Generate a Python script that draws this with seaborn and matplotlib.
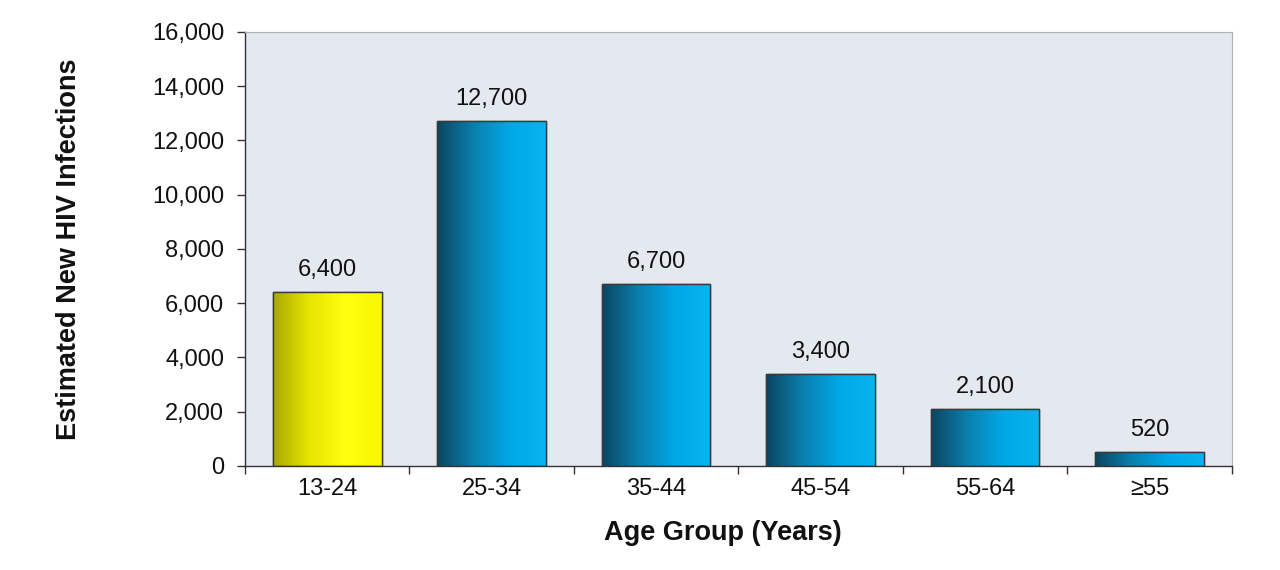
import matplotlib
matplotlib.use("Agg")
import matplotlib.pyplot as plt
import seaborn as sns
import numpy as np
import pandas as pd
from matplotlib.colors import LinearSegmentedColormap
from matplotlib.ticker import FuncFormatter, FixedLocator

categories = ["13-24", "25-34", "35-44", "45-54", "55-64", "≥55"]
values = [6400, 12700, 6700, 3400, 2100, 520]
value_labels = ["6,400", "12,700", "6,700", "3,400", "2,100", "520"]
highlight = ["yes", "no", "no", "no", "no", "no"]

sns.set_theme(style="white")
plt.rcParams['font.family'] = ['Liberation Sans', 'DejaVu Sans']

df = pd.DataFrame({"age": categories, "val": values, "hl": highlight})

fig = plt.figure(figsize=(12.8, 5.7), dpi=100)
ax = fig.add_axes([0.1914, 0.1825, 0.771, 0.7614])
ax.set_facecolor("#e4e8ef")

palette = {"yes": "#f0f000", "no": "#0a8fc0"}
sns.barplot(data=df, x="age", y="val", hue="hl", palette=palette, dodge=False,
            width=0.66, legend=False, ax=ax, edgecolor="#404040", linewidth=1.0)

blue_cmap = LinearSegmentedColormap.from_list("b", ["#0b4560", "#0a7fae", "#00a8e6", "#08b4f0"])
yel_cmap = LinearSegmentedColormap.from_list("y", ["#a9a800", "#e6e600", "#ffff10", "#f8f800"])
grad = np.linspace(0, 1, 256).reshape(1, -1)

for p, h in zip(sorted(ax.patches, key=lambda r: r.get_x()), highlight):
    x0, y0 = p.get_x(), p.get_y()
    w, hgt = p.get_width(), p.get_height()
    cm = yel_cmap if h == "yes" else blue_cmap
    im = ax.imshow(grad, cmap=cm, aspect="auto", extent=[x0, x0 + w, y0, y0 + hgt],
                   zorder=p.get_zorder() + 0.1, interpolation="bicubic")
    im.set_clip_path(p)
    edge = plt.Rectangle((x0, y0), w, hgt, fill=False, edgecolor="#3a3a3a",
                         linewidth=1.0, zorder=p.get_zorder() + 0.2)
    ax.add_patch(edge)

for i, (v, lab) in enumerate(zip(values, value_labels)):
    ax.annotate(lab, (i, v), xytext=(0, 8), textcoords="offset points",
                ha="center", va="bottom", fontsize=17, color="#111111")

ax.set_xlim(-0.5, 5.5)
ax.set_ylim(0, 16000)
ax.set_yticks(np.arange(0, 16001, 2000))
ax.yaxis.set_major_formatter(FuncFormatter(lambda v, p: f"{int(v):,}"))
ax.xaxis.set_minor_locator(FixedLocator(np.arange(-0.5, 6, 1.0)))
ax.tick_params(axis="x", which="major", length=0, labelsize=17, pad=9, colors="#111111")
ax.tick_params(axis="x", which="minor", length=6, width=1, color="#333333", direction="out", bottom=True)
ax.tick_params(axis="y", which="major", length=6, width=1, color="#333333", direction="out",
               left=True, labelsize=17, pad=9, labelcolor="#111111")

for s in ["left", "bottom"]:
    ax.spines[s].set_color("#333333")
    ax.spines[s].set_linewidth(1.0)
for s in ["top", "right"]:
    ax.spines[s].set_color("#b0b0b0")
    ax.spines[s].set_linewidth(0.8)

ax.set_xlabel("Age Group (Years)", fontsize=19.5, fontweight="bold", labelpad=14, color="#111111")
ax.xaxis.label.set_x(0.484)
ax.set_ylabel("Estimated New HIV Infections", fontsize=19.5, fontweight="bold", labelpad=50, color="#111111")

fig.savefig("out.png", dpi=100, facecolor="white")
